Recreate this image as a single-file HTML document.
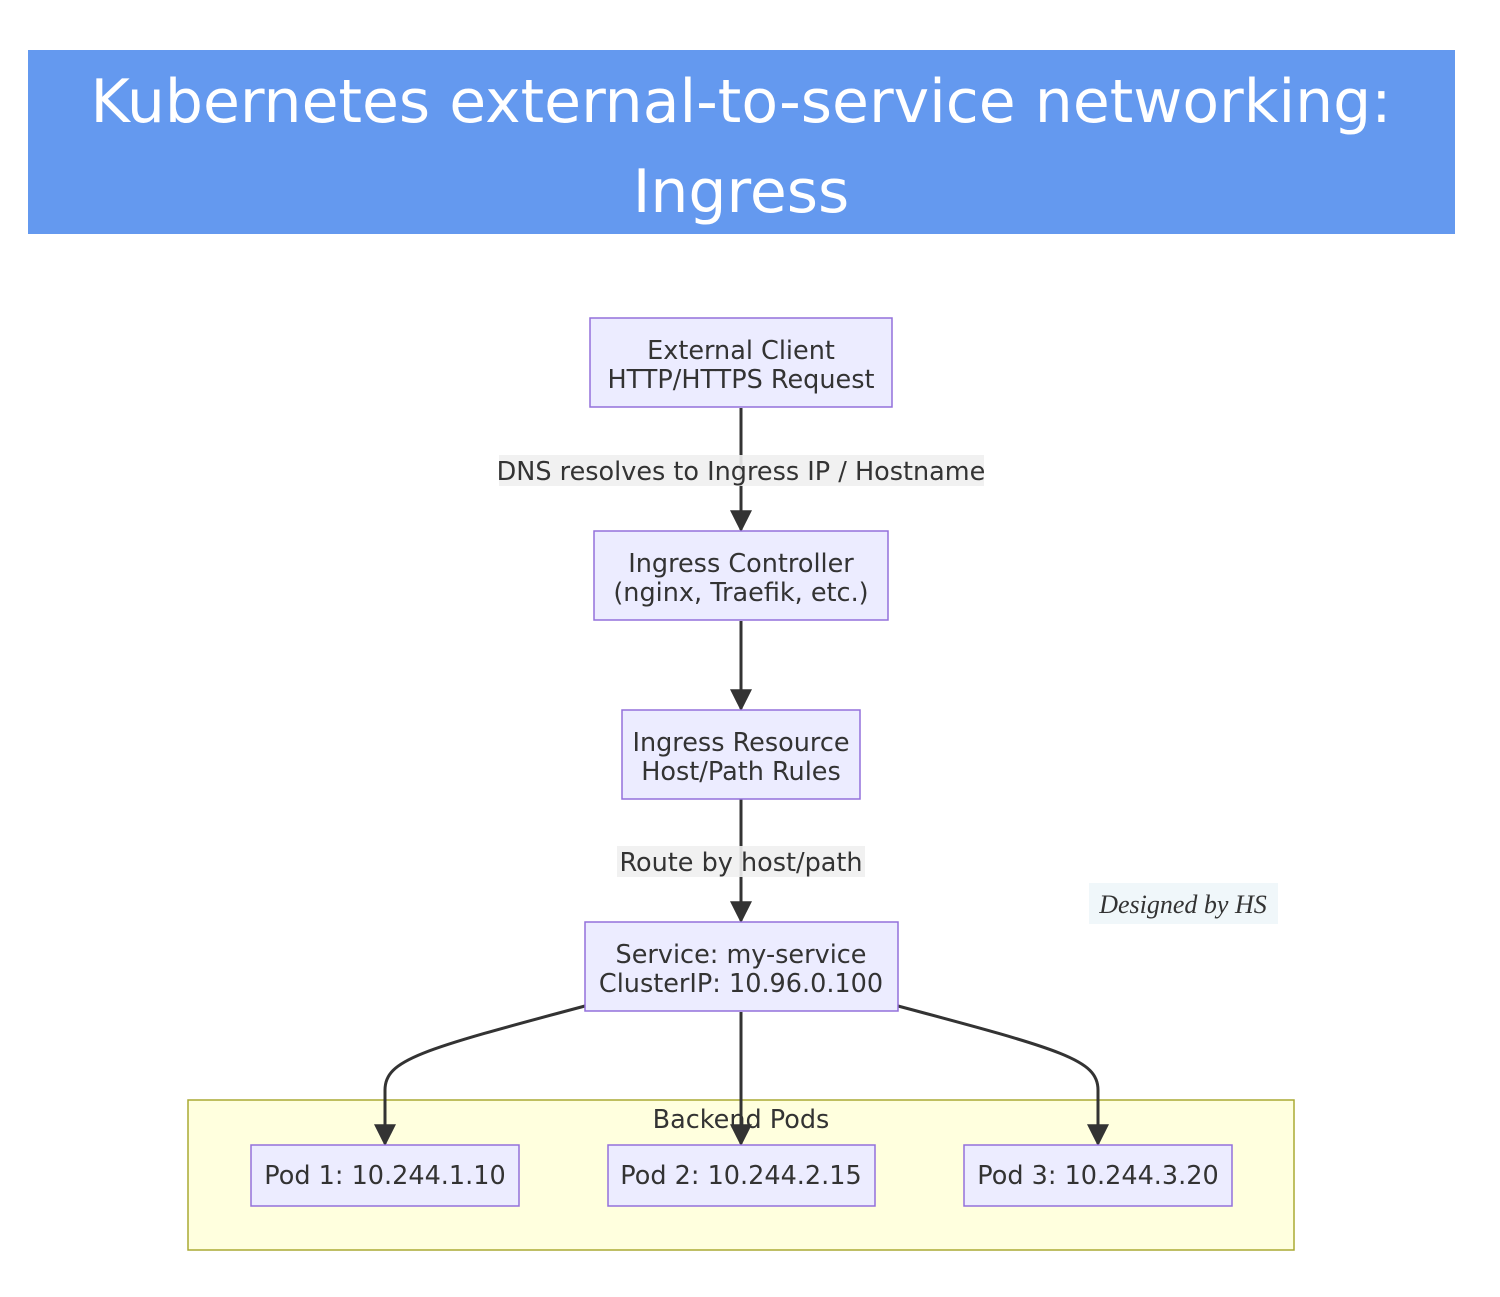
<!DOCTYPE html>
<html><head><meta charset="utf-8"><style>
html,body{margin:0;padding:0;background:#fff;width:1500px;height:1297px;overflow:hidden}
svg text{font-family:"DejaVu Sans","Liberation Sans",sans-serif;fill:#333}
</style></head><body>
<svg width="1500" height="1297" viewBox="0 0 1500 1297" xmlns="http://www.w3.org/2000/svg">
<defs>
<marker id="b" viewBox="0 0 10 10" refX="9" refY="5" markerWidth="22" markerHeight="22" markerUnits="userSpaceOnUse" orient="auto"><path d="M0,0 L10,5 L0,10 z" fill="#333"/></marker></defs>
<rect x="28" y="50" width="1427" height="184" fill="#6499ef"/>
<text x="741" y="122" text-anchor="middle" font-size="60" style="fill:#fff">Kubernetes external-to-service networking:</text>
<text x="741" y="212" text-anchor="middle" font-size="60" style="fill:#fff">Ingress</text>

<rect x="188" y="1100" width="1106" height="150" fill="#ffffde" stroke="#aaaa33" stroke-width="1.5"/>
<text x="741" y="1128" text-anchor="middle" font-size="25.5">Backend Pods</text>

<g stroke="#333" stroke-width="3" fill="none" marker-end="url(#b)">
<line x1="741" y1="408" x2="741" y2="530"/>
<line x1="741" y1="621" x2="741" y2="709"/>
<line x1="741" y1="799" x2="741" y2="921"/>
<line x1="741" y1="1012" x2="741" y2="1144"/>
<path d="M585,1006 C420,1050 385,1060 385,1090 L385,1144"/>
<path d="M898,1006 C1063,1050 1098,1060 1098,1090 L1098,1144"/>
</g>

<rect x="499" y="455" width="485" height="31" fill="#f0f0f0" opacity="0.9"/>
<text x="741" y="480" text-anchor="middle" font-size="25.5">DNS resolves to Ingress IP / Hostname</text>
<rect x="617" y="846" width="248" height="31" fill="#f0f0f0" opacity="0.9"/>
<text x="741" y="871" text-anchor="middle" font-size="25.5">Route by host/path</text>

<g fill="#ececff" stroke="#9370db" stroke-width="1.5">
<rect x="590" y="318" width="302" height="89"/>
<rect x="594" y="531" width="294" height="89"/>
<rect x="622" y="710" width="238" height="89"/>
<rect x="585" y="922" width="313" height="89"/>
<rect x="251" y="1145" width="268" height="61"/>
<rect x="608" y="1145" width="267" height="61"/>
<rect x="964" y="1145" width="268" height="61"/>
</g>
<g font-size="25.5" text-anchor="middle">
<text x="741" y="359">External Client</text><text x="741" y="388">HTTP/HTTPS Request</text>
<text x="741" y="572">Ingress Controller</text><text x="741" y="601">(nginx, Traefik, etc.)</text>
<text x="741" y="751">Ingress Resource</text><text x="741" y="780">Host/Path Rules</text>
<text x="741" y="963">Service: my-service</text><text x="741" y="992">ClusterIP: 10.96.0.100</text>
<text x="385" y="1184">Pod 1: 10.244.1.10</text>
<text x="741" y="1184">Pod 2: 10.244.2.15</text>
<text x="1098" y="1184">Pod 3: 10.244.3.20</text>
</g>
<rect x="1089" y="883" width="189" height="41" fill="#f0f7fa"/>
<text x="1183" y="913" text-anchor="middle" font-size="26" font-style="italic" style="font-family:'Liberation Serif',serif">Designed by HS</text>
</svg>
</body></html>
